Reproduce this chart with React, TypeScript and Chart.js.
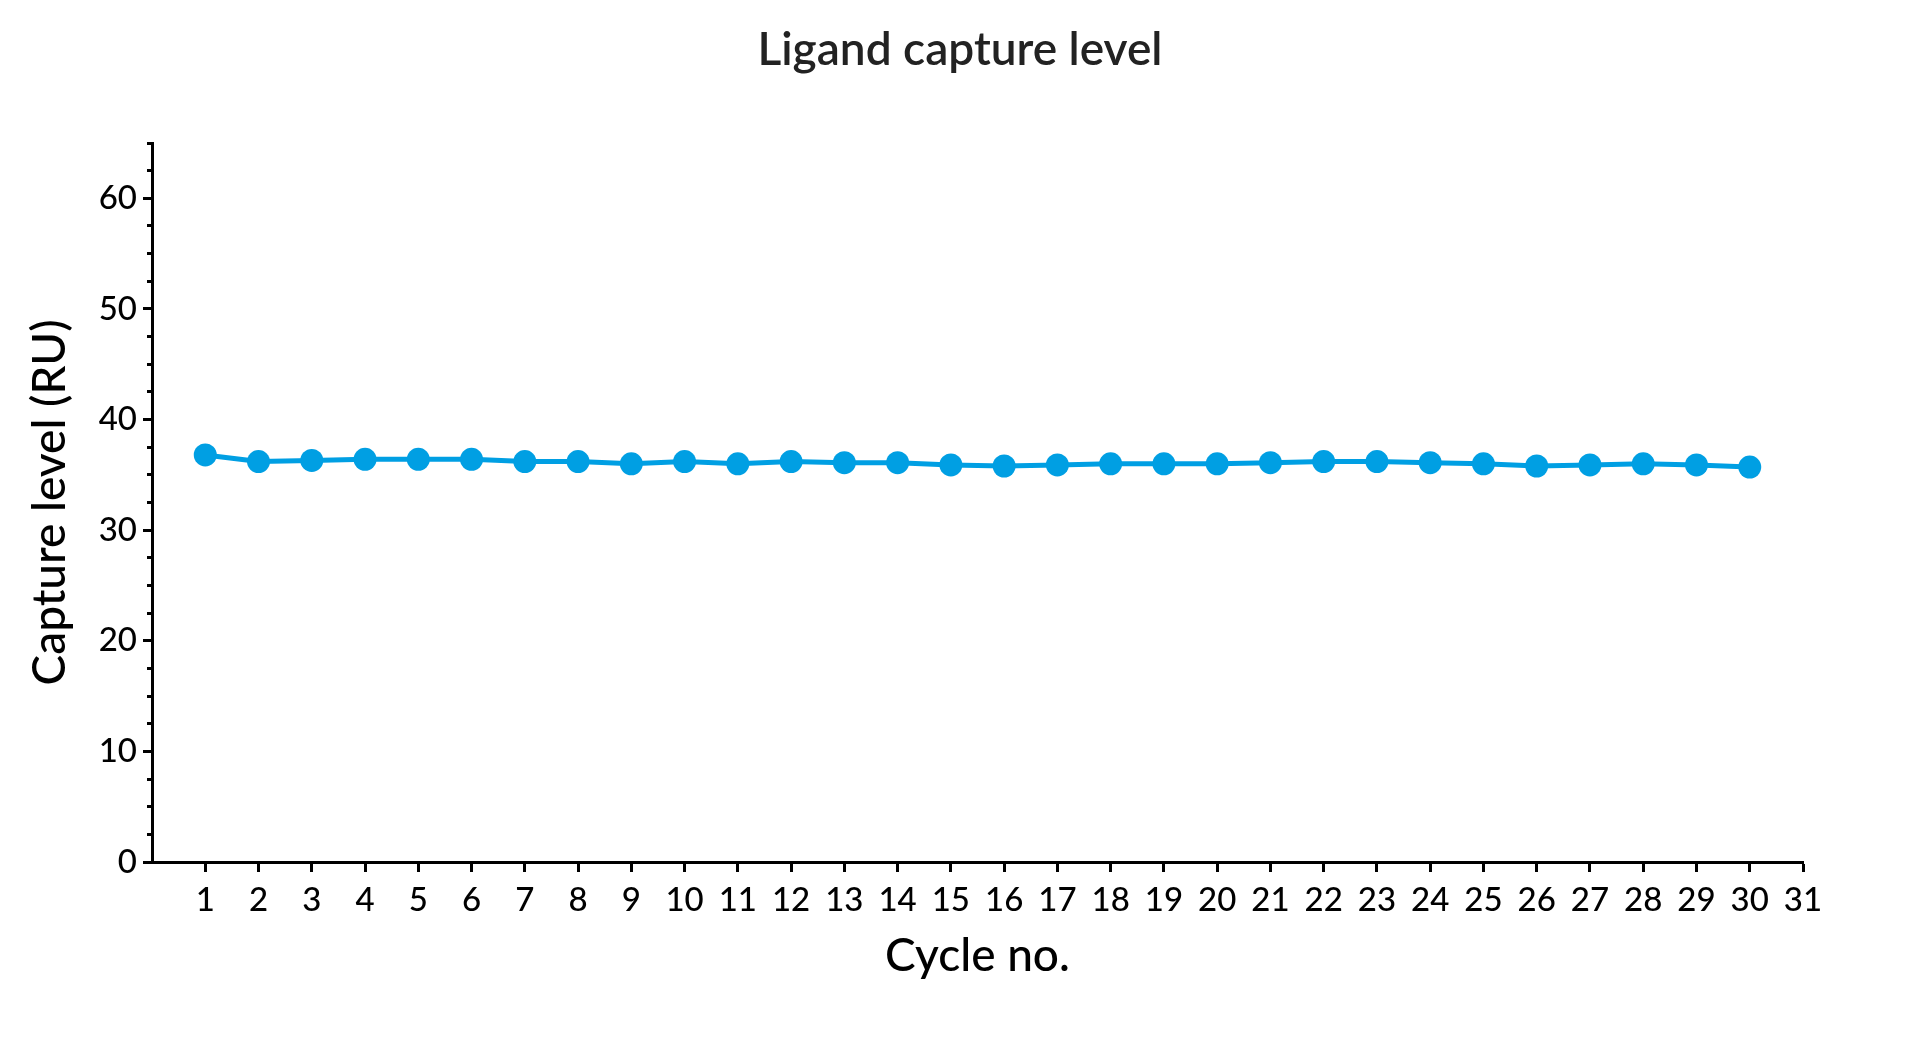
import React, { useEffect, useRef } from "react";
import { Chart, registerables } from "chart.js";

Chart.register(...registerables);

const cycles = [1, 2, 3, 4, 5, 6, 7, 8, 9, 10, 11, 12, 13, 14, 15, 16, 17, 18, 19, 20, 21, 22, 23, 24, 25, 26, 27, 28, 29, 30];
const captureLevel = [36.8, 36.2, 36.3, 36.4, 36.4, 36.4, 36.2, 36.2, 36.0, 36.2, 36.0, 36.2, 36.1, 36.1, 35.9, 35.8, 35.9, 36.0, 36.0, 36.0, 36.1, 36.2, 36.2, 36.1, 36.0, 35.8, 35.9, 36.0, 35.9, 35.7];

const chartTitle = "Ligand capture level";
const xTitle = "Cycle no.";
const yTitle = "Capture level (RU)";
const xMin = 0;
const xMax = 31;
const yMin = 0;
const yMax = 65;
const yMajorStep = 10;
const yMinorStep = 2.5;

const FONT = "Lato, 'Noto Sans', sans-serif";
const BLUE = "#009FE3";

export default function App() {
  const ref = useRef<HTMLCanvasElement | null>(null);

  useEffect(() => {
    document.body.style.margin = "0";
    const canvas = ref.current;
    if (!canvas) return;
    const chart = new Chart(canvas, {
      type: "line",
      data: {
        datasets: [
          {
            label: "Capture level",
            data: cycles.map((c, i) => ({ x: c, y: captureLevel[i] })),
            xAxisID: "x",
            yAxisID: "y",
            borderColor: BLUE,
            backgroundColor: BLUE,
            borderWidth: 5,
            pointRadius: 11.5,
            pointBorderWidth: 0,
            pointBackgroundColor: BLUE,
            tension: 0,
            clip: false,
          },
        ],
      },
      options: {
        responsive: false,
        animation: false,
        events: [],
        layout: { padding: { left: 0, right: 0, top: 0, bottom: 0 } },
        plugins: {
          legend: { display: false },
          tooltip: { enabled: false },
          title: {
            display: true,
            text: chartTitle,
            color: "#222",
            font: { family: FONT, size: 46, weight: "600" as any, lineHeight: 1.2 },
            padding: { top: 23, bottom: 64.8 },
          },
        },
        scales: {
          x: {
            type: "linear",
            axis: "x",
            position: "bottom",
            min: xMin,
            max: xMax,
            afterFit: (s: any) => {
              s.height = 190;
            },
            border: { display: true, color: "#000", width: 3 },
            grid: {
              drawOnChartArea: false,
              drawTicks: true,
              tickLength: 10,
              tickWidth: 3,
              tickColor: (ctx: any) => (ctx.tick && ctx.tick.value === 0 ? "rgba(0,0,0,0)" : "#000"),
            },
            ticks: {
              stepSize: 1,
              autoSkip: false,
              maxRotation: 0,
              color: "#000",
              padding: 9,
              font: { family: FONT, size: 33, weight: "500" as any },
              callback: (v: any) => (Number(v) === 0 ? "" : String(v)),
            },
            title: {
              display: true,
              text: xTitle,
              color: "#000",
              font: { family: FONT, size: 46, weight: "500" as any, lineHeight: 1.2 },
              padding: { top: 0, bottom: 68 },
            },
          },
          y: {
            type: "linear",
            axis: "y",
            position: "left",
            weight: 1,
            min: yMin,
            max: yMax,
            afterFit: (s: any) => {
              s.width = 152;
            },
            border: { display: true, color: "#000", width: 3 },
            grid: {
              drawOnChartArea: false,
              drawTicks: true,
              tickLength: 9,
              tickWidth: 3,
              tickColor: "#000",
            },
            ticks: {
              stepSize: yMajorStep,
              includeBounds: false,
              color: "#000",
              padding: 6,
              font: { family: FONT, size: 33, weight: "500" as any },
            },
            title: {
              display: true,
              text: yTitle,
              color: "#000",
              font: { family: FONT, size: 46, weight: "500" as any, lineHeight: 1.2 },
              padding: { top: 23, bottom: 0 },
            },
          },
          yMinor: {
            type: "linear",
            axis: "y",
            position: "left",
            weight: 0,
            min: yMin,
            max: yMax,
            afterFit: (s: any) => {
              s.width = 0;
            },
            border: { display: false },
            grid: {
              drawOnChartArea: false,
              drawTicks: true,
              tickLength: 5,
              tickWidth: 3,
              tickColor: "#000",
            },
            ticks: {
              display: false,
              stepSize: yMinorStep,
            },
          },
          rightSpacer: {
            type: "linear",
            axis: "y",
            position: "right",
            display: true,
            min: yMin,
            max: yMax,
            afterFit: (s: any) => {
              s.width = 117;
            },
            border: { display: false },
            grid: { display: false },
            ticks: { display: false },
          },
        },
      } as any,
    });
    return () => chart.destroy();
  }, []);

  return (
    <div style={{ position: "absolute", left: 0, top: 0, width: 1920, height: 1052, background: "#fff" }}>
      <canvas ref={ref} width={1920} height={1052} style={{ display: "block" }} />
    </div>
  );
}
